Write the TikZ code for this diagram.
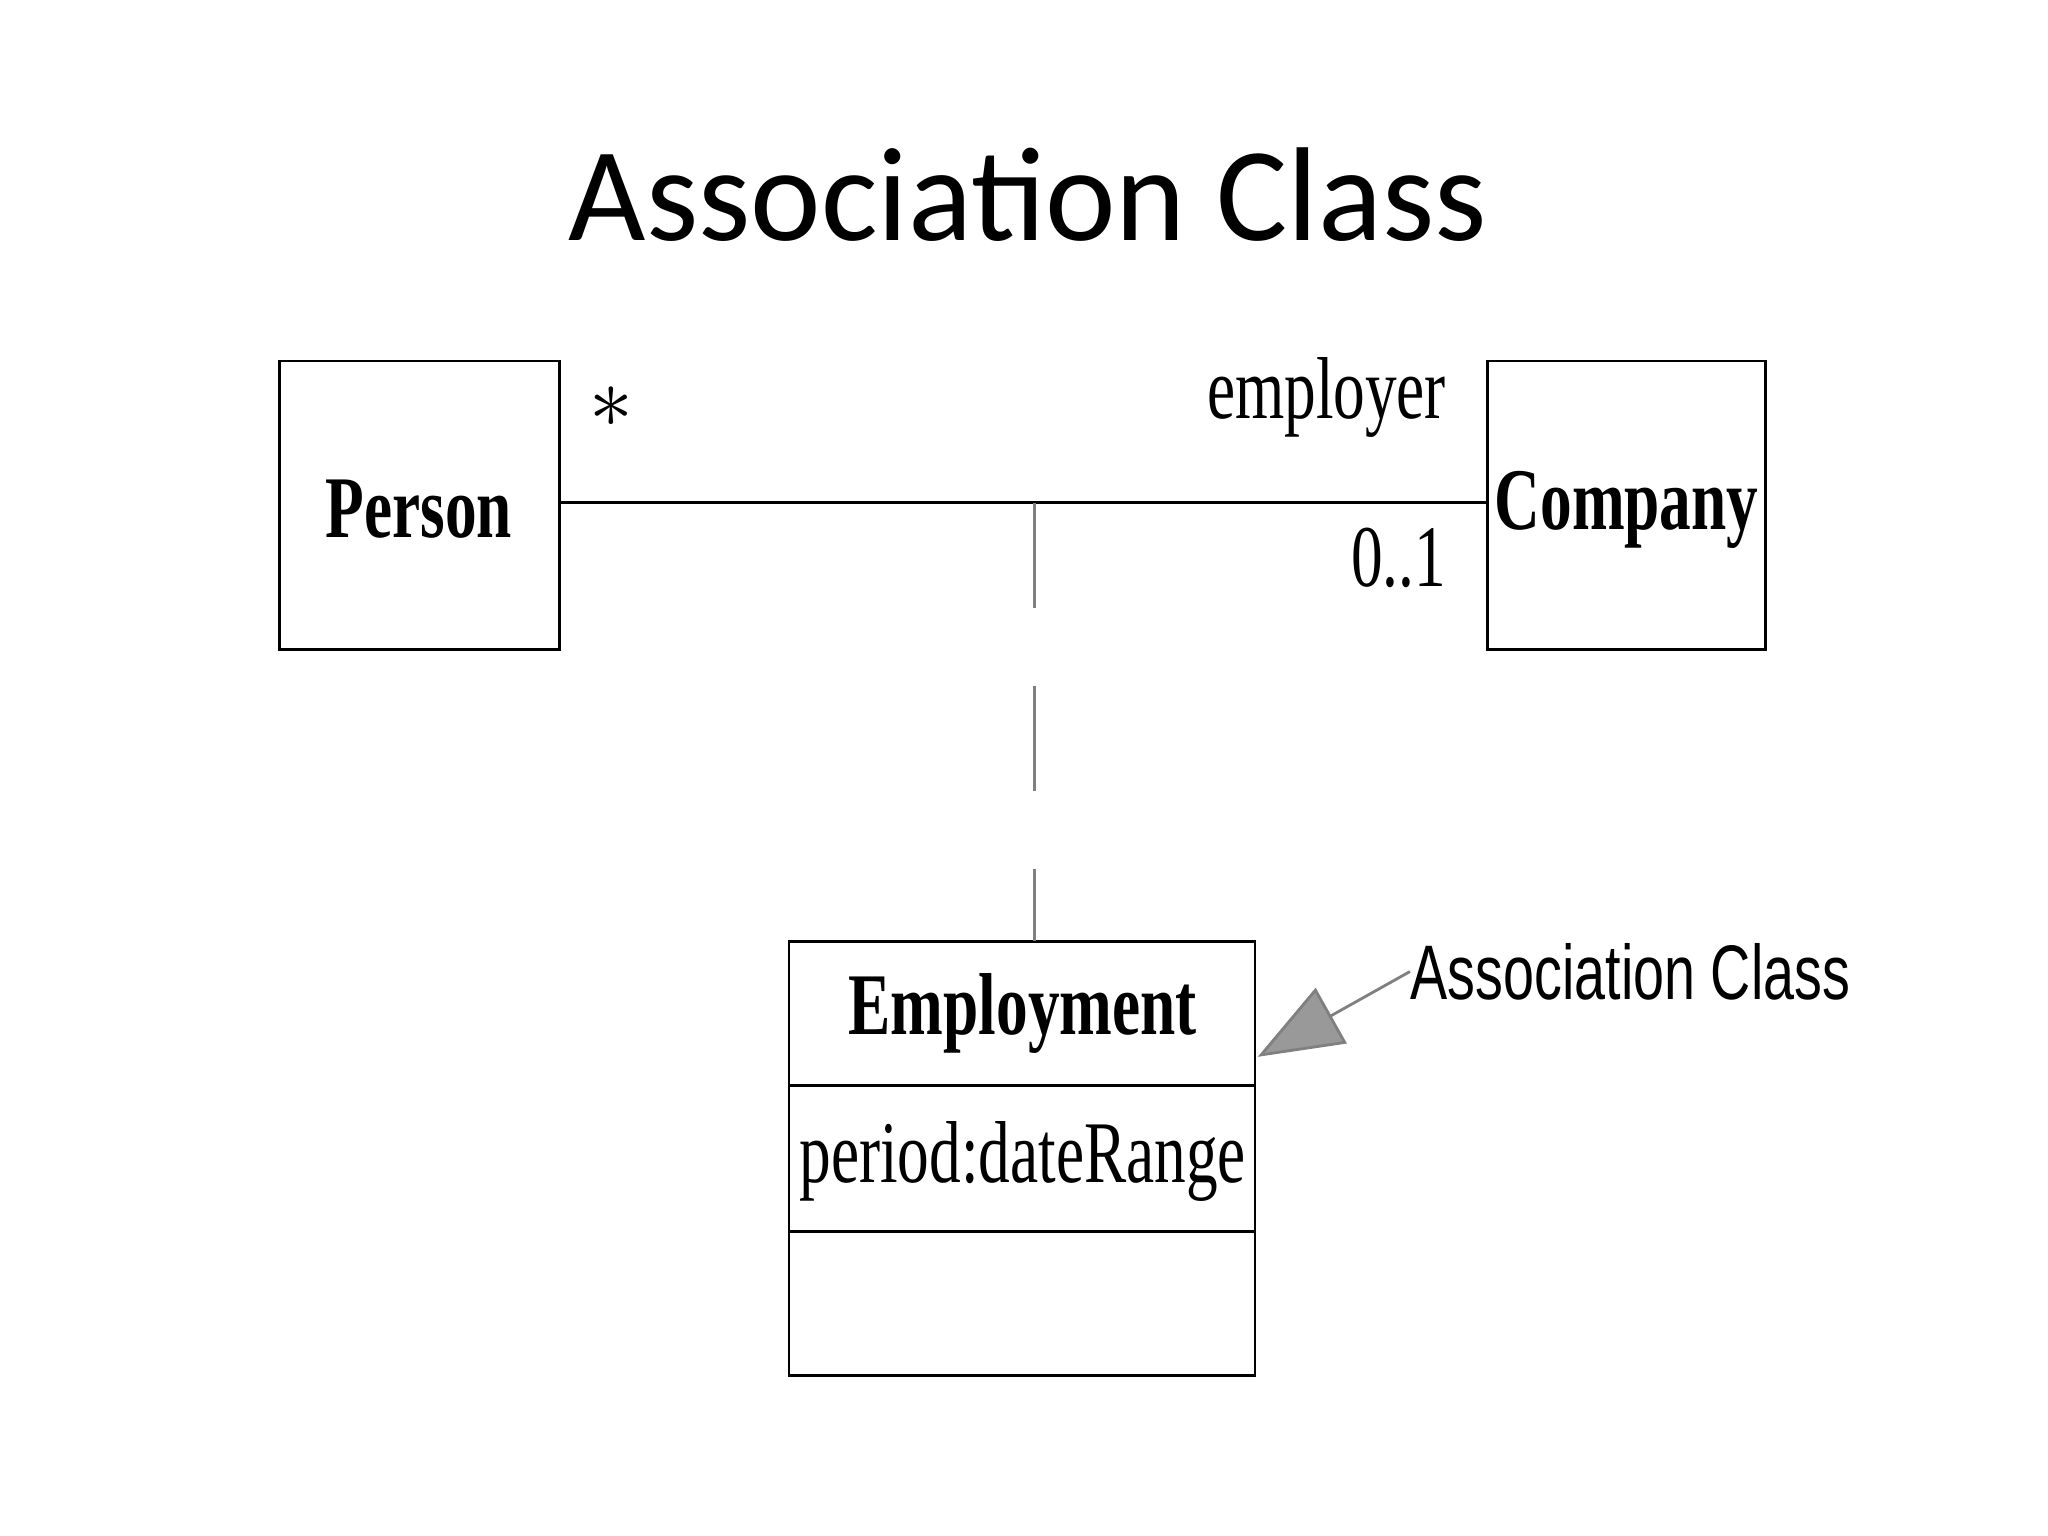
\documentclass[tikz,border=0pt]{standalone}
\usepackage{fontspec}
\setmainfont{Liberation Serif}
\newfontfamily\titlefont{Carlito}
\newfontfamily\notefont{Liberation Sans}
\usetikzlibrary{arrows.meta}
\newcommand{\narrow}[1]{\scalebox{0.72}[1]{#1}}

\begin{document}
\begin{tikzpicture}[x=0.013128cm,y=-0.013128cm,
  umlbox/.style={draw,line width=0.8pt},
  tag/.style={inner sep=0pt,font=\fontsize{25}{28}\selectfont}]
				\useasboundingbox (0,0) rectangle (1560,1170);
				\node[font=\titlefont\fontsize{38}{44}\selectfont] (title) at (783,148) {Association Class};
				\draw[umlbox] (213,275) rectangle (426,495);
				\node[tag] (person) at (319,388) {\narrow{\bfseries Person}};
				\draw[umlbox] (1133,275) rectangle (1345,495);
				\node[tag] (company) at (1239,388) {\narrow{\bfseries Company}};
				\coordinate (pr) at (426,383);
				\coordinate (cl) at (1133,383);
				\coordinate (mid) at (788,383);
				\draw[line width=0.8pt] (pr) -- (cl);
				\node[tag] (many) at (466,310) {$*$};
				\node[tag,anchor=east] (role) at (1102,303) {\narrow{employer}};
				\node[tag,anchor=east] (mult) at (1102,425) {\narrow{0..1}};
				% association class box
				\draw[umlbox] (601,717) rectangle (956,1048);
				\draw[umlbox] (601,827) -- (956,827);
				\draw[umlbox] (601,938) -- (956,938);
				\coordinate (top) at (788,717);
				\draw[line width=0.8pt,gray,dash pattern=on 30pt off 22pt] (mid) -- (top);
				\node[tag] (employment) at (779,772) {\narrow{\bfseries Employment}};
				\node[tag] (period) at (779,885) {\narrow{period:dateRange}};
				\node[inner sep=0pt,font=\notefont\fontsize{22}{26}\selectfont] (note) at (1242,740) {\narrow{Association Class}};
				\coordinate (tip) at (958,805);
				\draw[gray,line width=0.8pt,-{Triangle[length=24pt,width=18pt,fill=gray!80]}] (note.west) -- (tip);
			\end{tikzpicture}
\end{document}
